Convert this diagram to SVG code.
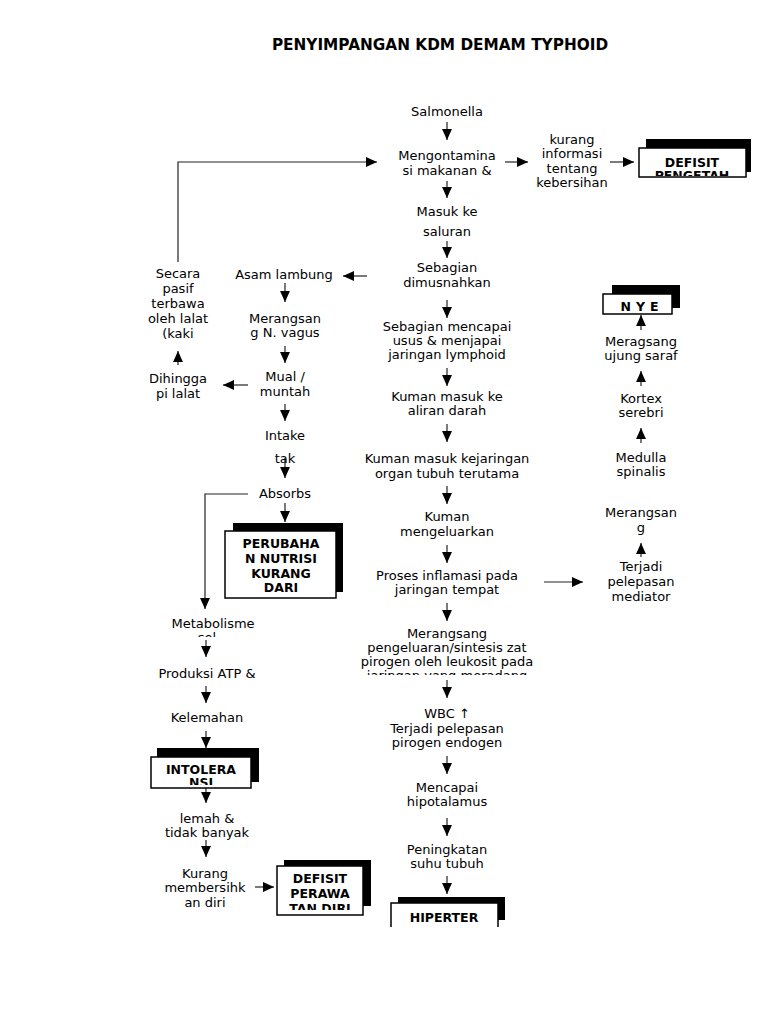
<svg xmlns="http://www.w3.org/2000/svg" width="768" height="1024" viewBox="0 0 768 1024">
<style>
text{font-family:"DejaVu Sans","Verdana",sans-serif;fill:#000;}
.t{font-size:13px;text-anchor:middle;}
.b{font-size:12.5px;font-weight:bold;text-anchor:middle;}
.title{font-size:15.3px;font-weight:bold;text-anchor:middle;}
.ln{stroke:#222;stroke-width:1.2;fill:none;}
.sh{fill:#000;}
.bx{fill:#fff;stroke:#000;stroke-width:1.5;}
</style>
<defs>
<marker id="ah" viewBox="0 0 10 10" refX="10" refY="5" markerWidth="11" markerHeight="11" markerUnits="userSpaceOnUse" orient="auto">
<path d="M0,0.5 L10,5 L0,9.5 z" fill="#000"/>
</marker>
<clipPath id="c1" clipPathUnits="userSpaceOnUse"><rect x="630" y="140" width="120" height="36"/></clipPath>
<clipPath id="c2" clipPathUnits="userSpaceOnUse"><rect x="140" y="750" width="120" height="35"/></clipPath>
<clipPath id="c3" clipPathUnits="userSpaceOnUse"><rect x="270" y="860" width="100" height="50"/></clipPath>
<clipPath id="c4" clipPathUnits="userSpaceOnUse"><rect x="140" y="630" width="140" height="7"/></clipPath>
<clipPath id="c5" clipPathUnits="userSpaceOnUse"><rect x="340" y="665" width="220" height="10"/></clipPath>
</defs>

<text class="title" x="440" y="50">PENYIMPANGAN KDM DEMAM TYPHOID</text>

<g id="connectors">
<line class="ln" x1="447" y1="122" x2="447" y2="140" marker-end="url(#ah)"/>
<line class="ln" x1="447" y1="181" x2="447" y2="198" marker-end="url(#ah)"/>
<line class="ln" x1="447" y1="241" x2="447" y2="258" marker-end="url(#ah)"/>
<line class="ln" x1="447" y1="300" x2="447" y2="318" marker-end="url(#ah)"/>
<line class="ln" x1="447" y1="368" x2="447" y2="386" marker-end="url(#ah)"/>
<line class="ln" x1="447" y1="424" x2="447" y2="442" marker-end="url(#ah)"/>
<line class="ln" x1="447" y1="486" x2="447" y2="504" marker-end="url(#ah)"/>
<line class="ln" x1="447" y1="545" x2="447" y2="563" marker-end="url(#ah)"/>
<line class="ln" x1="447" y1="603" x2="447" y2="621" marker-end="url(#ah)"/>
<line class="ln" x1="447" y1="680" x2="447" y2="698" marker-end="url(#ah)"/>
<line class="ln" x1="447" y1="756" x2="447" y2="774" marker-end="url(#ah)"/>
<line class="ln" x1="447" y1="818" x2="447" y2="836" marker-end="url(#ah)"/>
<line class="ln" x1="447" y1="876" x2="447" y2="894" marker-end="url(#ah)"/>
<line class="ln" x1="505" y1="162" x2="528" y2="162" marker-end="url(#ah)"/>
<line class="ln" x1="610" y1="162" x2="634" y2="162" marker-end="url(#ah)"/>
<path class="ln" d="M178,262 V162 H377" marker-end="url(#ah)"/>
<line class="ln" x1="367" y1="276" x2="343" y2="276" marker-end="url(#ah)"/>
<line class="ln" x1="285" y1="283" x2="285" y2="302" marker-end="url(#ah)"/>
<line class="ln" x1="285" y1="346" x2="285" y2="363" marker-end="url(#ah)"/>
<line class="ln" x1="285" y1="404" x2="285" y2="421" marker-end="url(#ah)"/>
<line class="ln" x1="285" y1="458" x2="285" y2="478" marker-end="url(#ah)"/>
<line class="ln" x1="285" y1="503" x2="285" y2="522" marker-end="url(#ah)"/>
<line class="ln" x1="248" y1="385" x2="223" y2="385" marker-end="url(#ah)"/>
<line class="ln" x1="178" y1="365" x2="178" y2="351" marker-end="url(#ah)"/>
<path class="ln" d="M248,494 H205 V609" marker-end="url(#ah)"/>
<line class="ln" x1="206" y1="640" x2="206" y2="657" marker-end="url(#ah)"/>
<line class="ln" x1="206" y1="686" x2="206" y2="703" marker-end="url(#ah)"/>
<line class="ln" x1="206" y1="731" x2="206" y2="748" marker-end="url(#ah)"/>
<line class="ln" x1="206" y1="787" x2="206" y2="803" marker-end="url(#ah)"/>
<line class="ln" x1="206" y1="840" x2="206" y2="857" marker-end="url(#ah)"/>
<line class="ln" x1="255" y1="887" x2="274" y2="887" marker-end="url(#ah)"/>
<line class="ln" x1="544" y1="582" x2="583" y2="582" marker-end="url(#ah)"/>
<line class="ln" x1="641" y1="557" x2="641" y2="543" marker-end="url(#ah)"/>
<line class="ln" x1="641" y1="443" x2="641" y2="428" marker-end="url(#ah)"/>
<line class="ln" x1="641" y1="386" x2="641" y2="371" marker-end="url(#ah)"/>
<line class="ln" x1="641" y1="330" x2="641" y2="315" marker-end="url(#ah)"/>
</g>

<g id="salmonella"><text class="t" x="447" y="116">Salmonella</text></g>
<g id="mengontaminasi"><text class="t" x="447" y="160">Mengontamina</text><text class="t" x="447" y="175">si makanan &amp;</text></g>
<g id="masuk"><text class="t" x="447" y="216">Masuk ke</text><text class="t" x="447" y="236">saluran</text></g>
<g id="dimusnahkan"><text class="t" x="447" y="272">Sebagian</text><text class="t" x="447" y="287">dimusnahkan</text></g>
<g id="mencapai-usus"><text class="t" x="447" y="331">Sebagian mencapai</text><text class="t" x="447" y="345">usus &amp; menjapai</text><text class="t" x="447" y="359">jaringan lymphoid</text></g>
<g id="aliran-darah"><text class="t" x="447" y="401">Kuman masuk ke</text><text class="t" x="447" y="415">aliran darah</text></g>
<g id="organ"><text class="t" x="447" y="463">Kuman masuk kejaringan</text><text class="t" x="447" y="478">organ tubuh terutama</text></g>
<g id="mengeluarkan"><text class="t" x="447" y="521">Kuman</text><text class="t" x="447" y="536">mengeluarkan</text></g>
<g id="inflamasi"><text class="t" x="447" y="580">Proses inflamasi pada</text><text class="t" x="447" y="594">jaringan tempat</text></g>
<g id="pirogen"><text class="t" x="447" y="638">Merangsang</text><text class="t" x="447" y="652">pengeluaran/sintesis zat</text><text class="t" x="447" y="666">pirogen oleh leukosit pada</text><text class="t" x="447" y="680" clip-path="url(#c5)">jaringan yang meradang</text></g>
<g id="wbc"><text class="t" x="447" y="718">WBC ↑</text><text class="t" x="447" y="733">Terjadi pelepasan</text><text class="t" x="447" y="747">pirogen endogen</text></g>
<g id="hipotalamus"><text class="t" x="447" y="792">Mencapai</text><text class="t" x="447" y="806">hipotalamus</text></g>
<g id="suhu"><text class="t" x="447" y="854">Peningkatan</text><text class="t" x="447" y="868">suhu tubuh</text></g>
<g id="hiperter">
<rect class="sh" x="398" y="897" width="107" height="23"/>
<path d="M391,927 V903 H498 V927 Z" fill="#fff"/>
<path d="M391,927 V903 H498 V927" fill="none" stroke="#000" stroke-width="1.5"/>
<text class="b" x="444" y="922">HIPERTER</text>
</g>

<g id="kurang-informasi"><text class="t" x="572" y="144">kurang</text><text class="t" x="572" y="158">informasi</text><text class="t" x="572" y="173">tentang</text><text class="t" x="572" y="187">kebersihan</text></g>
<g id="defisit-pengetahuan">
<rect class="sh" x="646" y="139" width="105" height="33"/>
<rect class="bx" x="639" y="148" width="107" height="29"/>
<g clip-path="url(#c1)"><text class="b" x="692" y="167">DEFISIT</text><text class="b" x="692" y="180">PENGETAH</text></g>
</g>

<g id="nyeri">
<rect class="sh" x="612" y="285" width="68" height="23"/>
<rect class="bx" x="603" y="294" width="69" height="20"/>
<text class="b" x="642" y="311" letter-spacing="5">NYE</text>
</g>
<g id="ujung-saraf"><text class="t" x="641" y="346">Meragsang</text><text class="t" x="641" y="360">ujung saraf</text></g>
<g id="kortex"><text class="t" x="641" y="403">Kortex</text><text class="t" x="641" y="417">serebri</text></g>
<g id="medulla"><text class="t" x="641" y="462">Medulla</text><text class="t" x="641" y="476">spinalis</text></g>
<g id="merangsang-r"><text class="t" x="641" y="517">Merangsan</text><text class="t" x="641" y="532">g</text></g>
<g id="mediator"><text class="t" x="641" y="571">Terjadi</text><text class="t" x="641" y="586">pelepasan</text><text class="t" x="641" y="601">mediator</text></g>

<g id="asam-lambung"><text class="t" x="284" y="279">Asam lambung</text></g>
<g id="vagus"><text class="t" x="285" y="323">Merangsan</text><text class="t" x="285" y="337">g N. vagus</text></g>
<g id="mual"><text class="t" x="285" y="381">Mual /</text><text class="t" x="285" y="396">muntah</text></g>
<g id="intake"><text class="t" x="285" y="440">Intake</text><text class="t" x="285" y="463">tak</text></g>
<g id="absorbs"><text class="t" x="285" y="498">Absorbs</text></g>
<g id="perubahan-nutrisi">
<rect class="sh" x="233" y="523" width="110" height="69"/>
<rect class="bx" x="225" y="531" width="111" height="67"/>
<text class="b" x="281" y="548">PERUBAHA</text>
<text class="b" x="281" y="563">N NUTRISI</text>
<text class="b" x="281" y="578">KURANG</text>
<text class="b" x="281" y="592">DARI</text>
</g>

<g id="secara-pasif"><text class="t" x="178" y="278">Secara</text><text class="t" x="178" y="293">pasif</text><text class="t" x="178" y="308">terbawa</text><text class="t" x="178" y="323">oleh lalat</text><text class="t" x="178" y="338">(kaki</text></g>
<g id="dihinggapi"><text class="t" x="178" y="383">Dihingga</text><text class="t" x="178" y="398">pi lalat</text></g>

<g id="metabolisme"><text class="t" x="213" y="628">Metabolisme</text><text class="t" x="207" y="642" clip-path="url(#c4)">sel</text></g>
<g id="produksi-atp"><text class="t" x="207" y="678">Produksi ATP &amp;</text></g>
<g id="kelemahan"><text class="t" x="207" y="722">Kelemahan</text></g>
<g id="intoleransi">
<rect class="sh" x="157" y="748" width="102" height="34"/>
<rect class="bx" x="151" y="757" width="100" height="31"/>
<g clip-path="url(#c2)"><text class="b" x="201" y="774">INTOLERA</text><text class="b" x="201" y="787">NSI</text></g>
</g>
<g id="lemah"><text class="t" x="207" y="823">lemah &amp;</text><text class="t" x="207" y="837">tidak banyak</text></g>
<g id="kurang-bersih"><text class="t" x="205" y="878">Kurang</text><text class="t" x="205" y="892">membersihk</text><text class="t" x="205" y="907">an diri</text></g>
<g id="defisit-perawatan">
<rect class="sh" x="284" y="860" width="87" height="46"/>
<rect class="bx" x="277" y="866" width="86" height="49"/>
<g clip-path="url(#c3)"><text class="b" x="320" y="883">DEFISIT</text><text class="b" x="320" y="898">PERAWA</text><text class="b" x="320" y="913">TAN DIRI</text></g>
</g>
</svg>
